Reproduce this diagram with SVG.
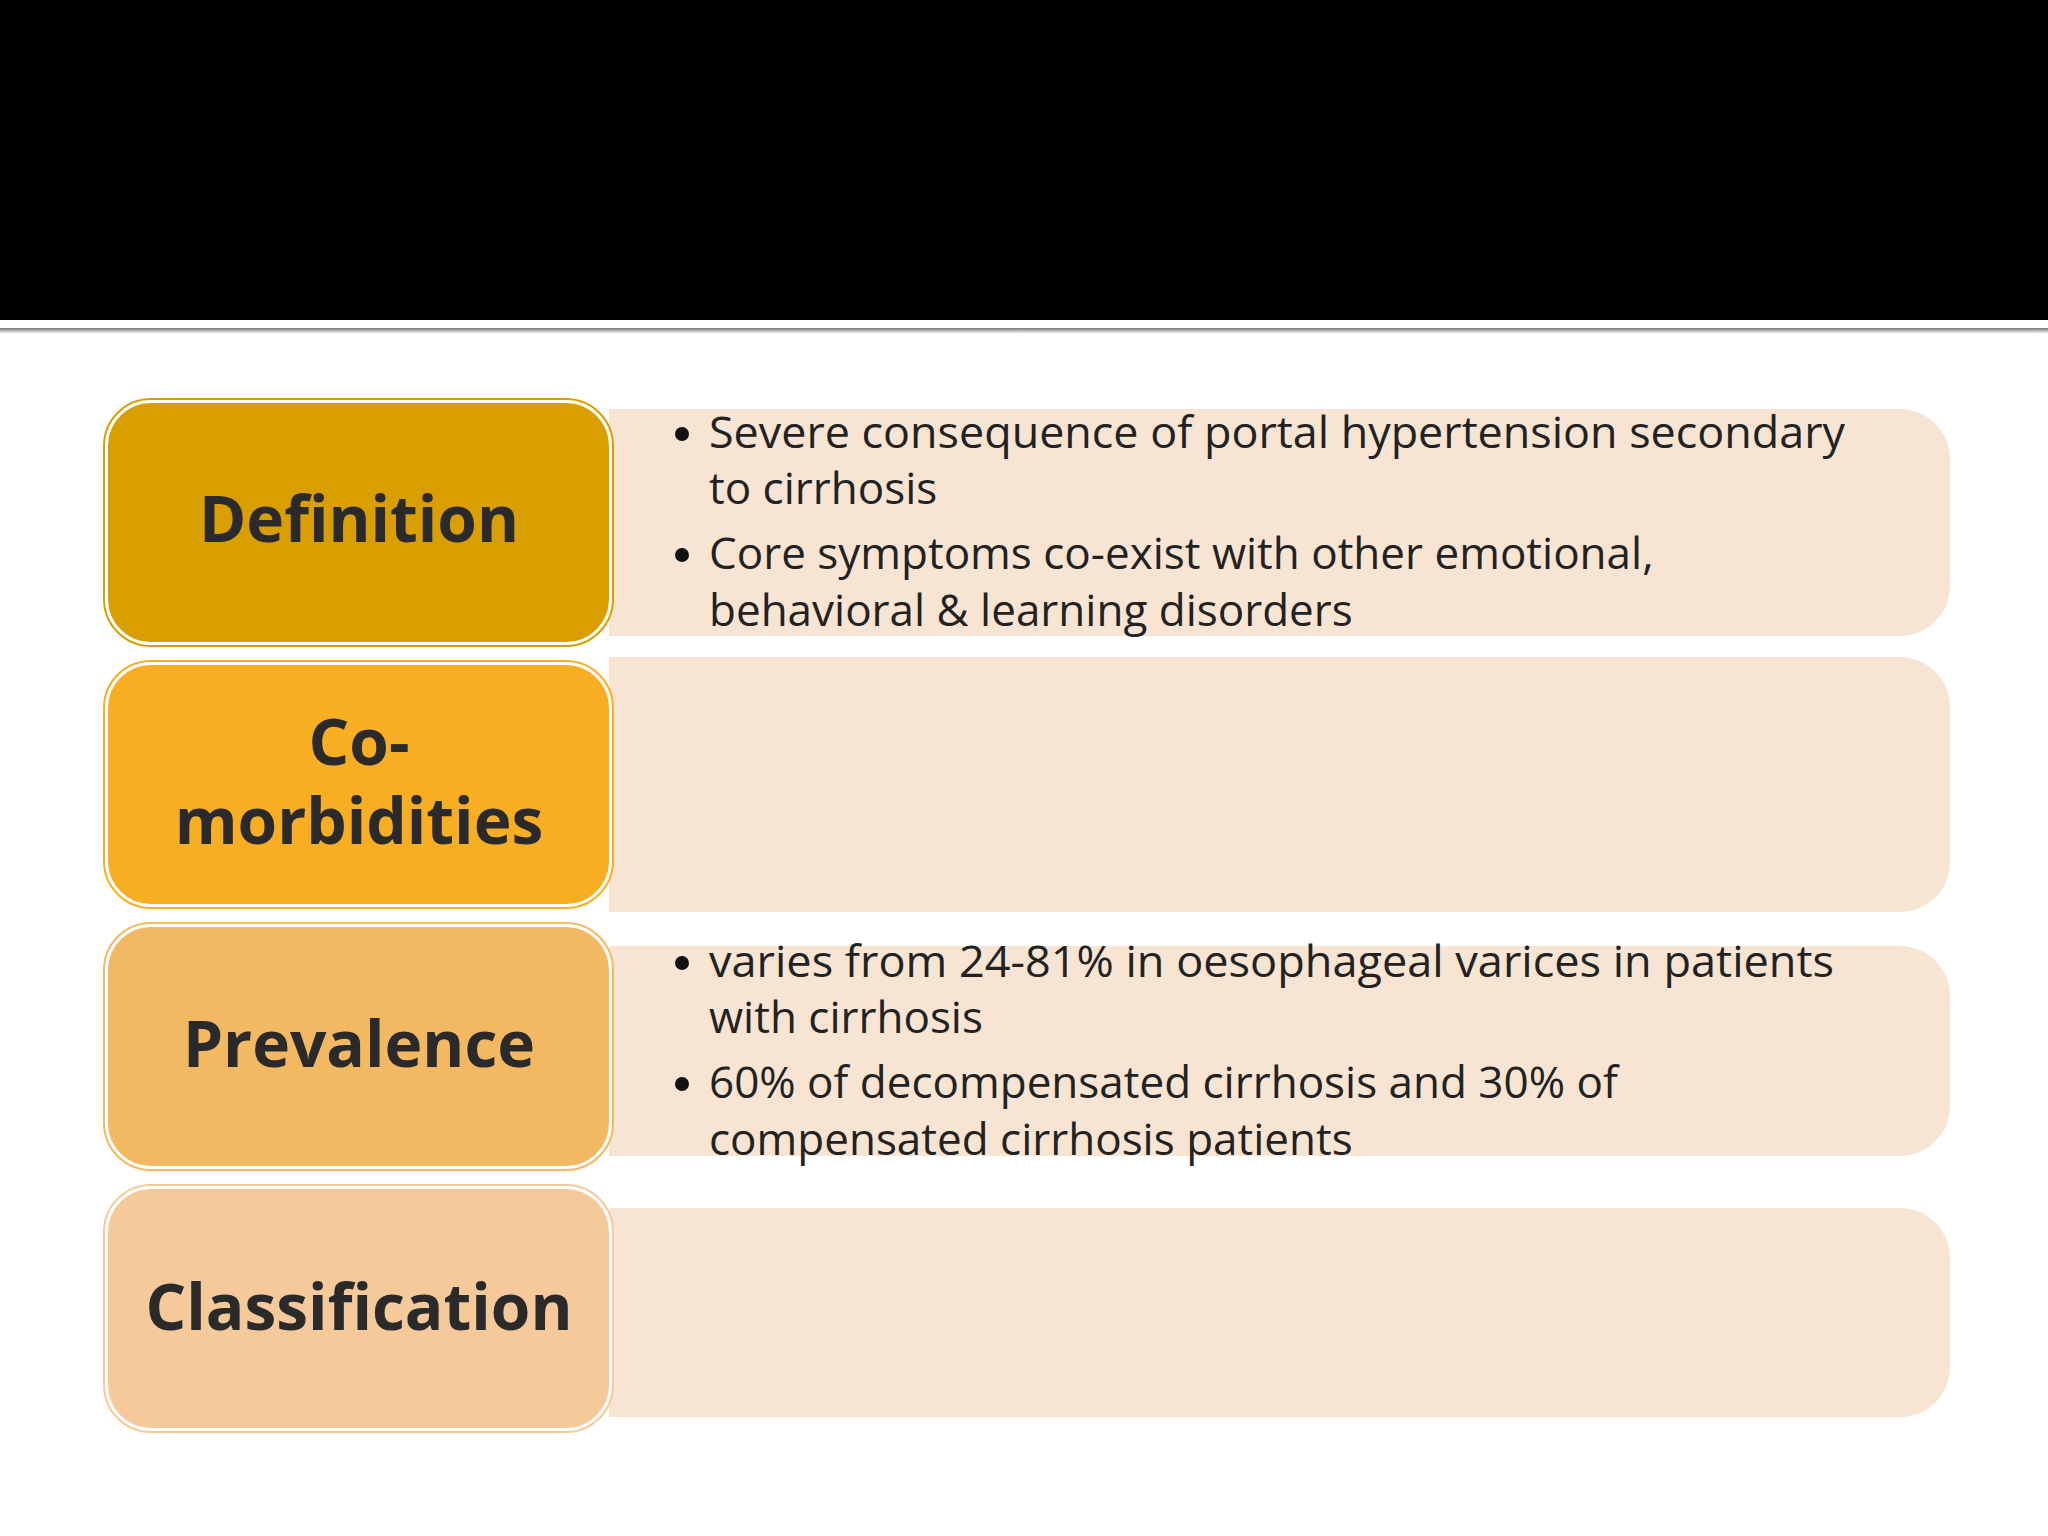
<svg xmlns="http://www.w3.org/2000/svg" width="2048" height="1536" viewBox="0 0 2048 1536">
<defs>
<linearGradient id="gl" x1="0" y1="0" x2="0" y2="1"><stop offset="0" stop-color="#777"/><stop offset="1" stop-color="#eee"/></linearGradient>
</defs>
<style>
.lab{font-family:"Open Sans","Liberation Sans",sans-serif;font-weight:bold;font-size:64px;fill:#2a2a2a;text-anchor:middle}
.txt{font-family:"Open Sans","Liberation Sans",sans-serif;font-size:44px;fill:#222}
.panel{fill:#F8E4D2}
.box{stroke:#fff;stroke-width:4}
.ring{fill:none;stroke-width:2}
</style>
<rect width="2048" height="1536" fill="#fff"/>
<rect width="2048" height="320" fill="#000"/>
<rect y="328" width="2048" height="5" fill="url(#gl)"/>
<g id="panels">
<path class="panel" d="M609 409 H1900 a50 50 0 0 1 50 50 V586 a50 50 0 0 1 -50 50 H609 Z"/>
<path class="panel" d="M609 657 H1900 a50 50 0 0 1 50 50 V862 a50 50 0 0 1 -50 50 H609 Z"/>
<path class="panel" d="M609 946 H1900 a50 50 0 0 1 50 50 V1106 a50 50 0 0 1 -50 50 H609 Z"/>
<path class="panel" d="M609 1208 H1900 a50 50 0 0 1 50 50 V1367 a50 50 0 0 1 -50 50 H609 Z"/>
</g>
<g id="definition">
<rect x="106" y="401" width="505" height="243" rx="45" fill="#D99E00" class="box"/>
<rect x="104" y="399" width="509" height="247" rx="47" class="ring" stroke="#D99E00"/>
<text class="lab" x="359" y="542">Definition</text>
</g>
<g id="comorbidities">
<rect x="106" y="663" width="505" height="243" rx="45" fill="#F8AE22" class="box"/>
<rect x="104" y="661" width="509" height="247" rx="47" class="ring" stroke="#F8AE22"/>
<text class="lab" x="359" y="765">Co-</text>
<text class="lab" x="359" y="844">morbidities</text>
</g>
<g id="prevalence">
<rect x="106" y="925" width="505" height="243" rx="45" fill="#F3B862" class="box"/>
<rect x="104" y="923" width="509" height="247" rx="47" class="ring" stroke="#F3B862"/>
<text class="lab" x="359" y="1067">Prevalence</text>
</g>
<g id="classification">
<rect x="106" y="1187" width="505" height="243" rx="45" fill="#F5C99A" class="box"/>
<rect x="104" y="1185" width="509" height="247" rx="47" class="ring" stroke="#F5C99A"/>
<text class="lab" x="359" y="1330">Classification</text>
</g>
<g id="texts" class="txt">
<circle cx="682" cy="434" r="7" fill="#111"/>
<text class="txt" x="709" y="448" textLength="1136" lengthAdjust="spacingAndGlyphs">Severe consequence of portal hypertension secondary</text>
<text class="txt" x="709" y="504">to cirrhosis</text>
<circle cx="682" cy="555" r="7" fill="#111"/>
<text class="txt" x="709" y="569">Core symptoms co-exist with other emotional,</text>
<text class="txt" x="709" y="626">behavioral &amp; learning disorders</text>
<circle cx="682" cy="963" r="7" fill="#111"/>
<text class="txt" x="709" y="977" textLength="1125" lengthAdjust="spacingAndGlyphs">varies from 24-81% in oesophageal varices in patients</text>
<text class="txt" x="709" y="1033">with cirrhosis</text>
<circle cx="682" cy="1084" r="7" fill="#111"/>
<text class="txt" x="709" y="1098">60% of decompensated cirrhosis and 30% of</text>
<text class="txt" x="709" y="1155">compensated cirrhosis patients</text>
</g>
</svg>
